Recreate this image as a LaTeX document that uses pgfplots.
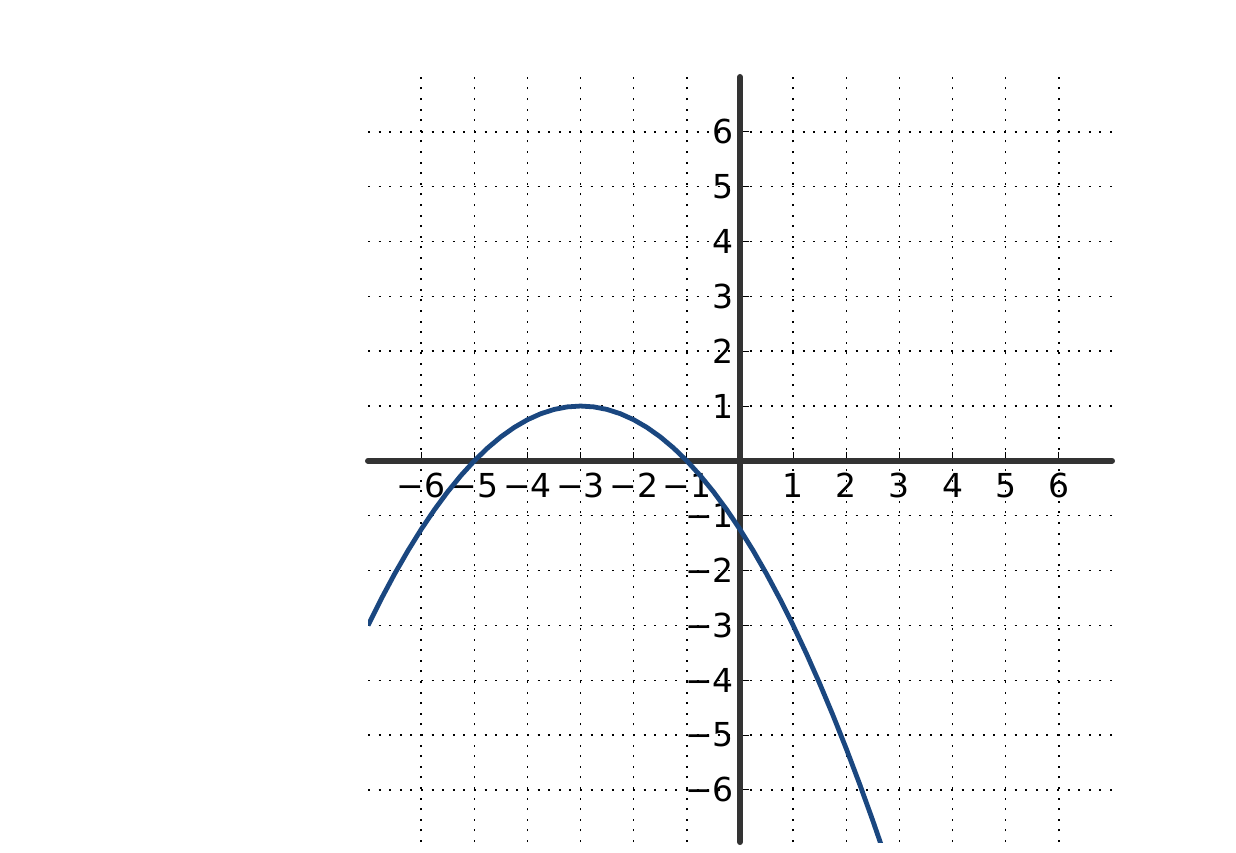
\documentclass[border=0pt]{standalone}
\usepackage{fontspec}
\setmainfont{DejaVu Sans}
\usepackage{pgfplots}
\pgfplotsset{compat=1.18}

\definecolor{spine}{HTML}{333333}
\definecolor{curve}{HTML}{1A4780}

\begin{document}
\begin{tikzpicture}
\begin{axis}[
  name=ax,
  scale only axis,
  width=372pt, height=382.5pt,
  xmin=-7, xmax=7, ymin=-6.95, ymax=7,
  axis lines=middle,
  axis line style={-, line width=3pt, color=spine, line cap=round},
  xtick={-6,-5,-4,-3,-2,-1,1,2,3,4,5,6},
  ytick={-6,-5,-4,-3,-2,-1,1,2,3,4,5,6},
  xticklabels={−6,−5,−4,−3,−2,−1,1,2,3,4,5,6},
  yticklabels={−6,−5,−4,−3,−2,−1,1,2,3,4,5,6},
  tick align=inside,
  major tick length=4.5pt,
  tick style={black, line width=0.5pt},
  grid=major,
  major grid style={black, line width=0.7pt, dash pattern=on 1pt off 4.3pt},
  ticklabel style={font=\fontsize{16.5}{18}\selectfont},
  xticklabel style={anchor=north, yshift=-2.5pt},
  yticklabel style={anchor=east, xshift=0.5pt},
  /pgf/number format/assume math mode=true,
]
\addplot[color=curve, line width=2.4pt] coordinates {
  (-7,-3) (-6.75,-2.515625) (-6.5,-2.0625) (-6.25,-1.640625) (-6,-1.25)
  (-5.75,-0.890625) (-5.5,-0.5625) (-5.25,-0.265625) (-5,0)
  (-4.75,0.234375) (-4.5,0.4375) (-4.25,0.609375) (-4,0.75)
  (-3.75,0.859375) (-3.5,0.9375) (-3.25,0.984375) (-3,1)
  (-2.75,0.984375) (-2.5,0.9375) (-2.25,0.859375) (-2,0.75)
  (-1.75,0.609375) (-1.5,0.4375) (-1.25,0.234375) (-1,0)
  (-0.75,-0.265625) (-0.5,-0.5625) (-0.25,-0.890625) (0,-1.25)
  (0.25,-1.640625) (0.5,-2.0625) (0.75,-2.515625) (1,-3)
  (1.25,-3.515625) (1.5,-4.0625) (1.75,-4.640625) (2,-5.25)
  (2.25,-5.890625) (2.5,-6.5625) (2.75,-7.265625)
};
\end{axis}
\path (ax.south west) ++(-184pt,-5pt) coordinate (bl);
\path (ax.north east) ++(62pt,38.5pt) coordinate (tr);
\useasboundingbox (bl) rectangle (tr);
\end{tikzpicture}
\end{document}
